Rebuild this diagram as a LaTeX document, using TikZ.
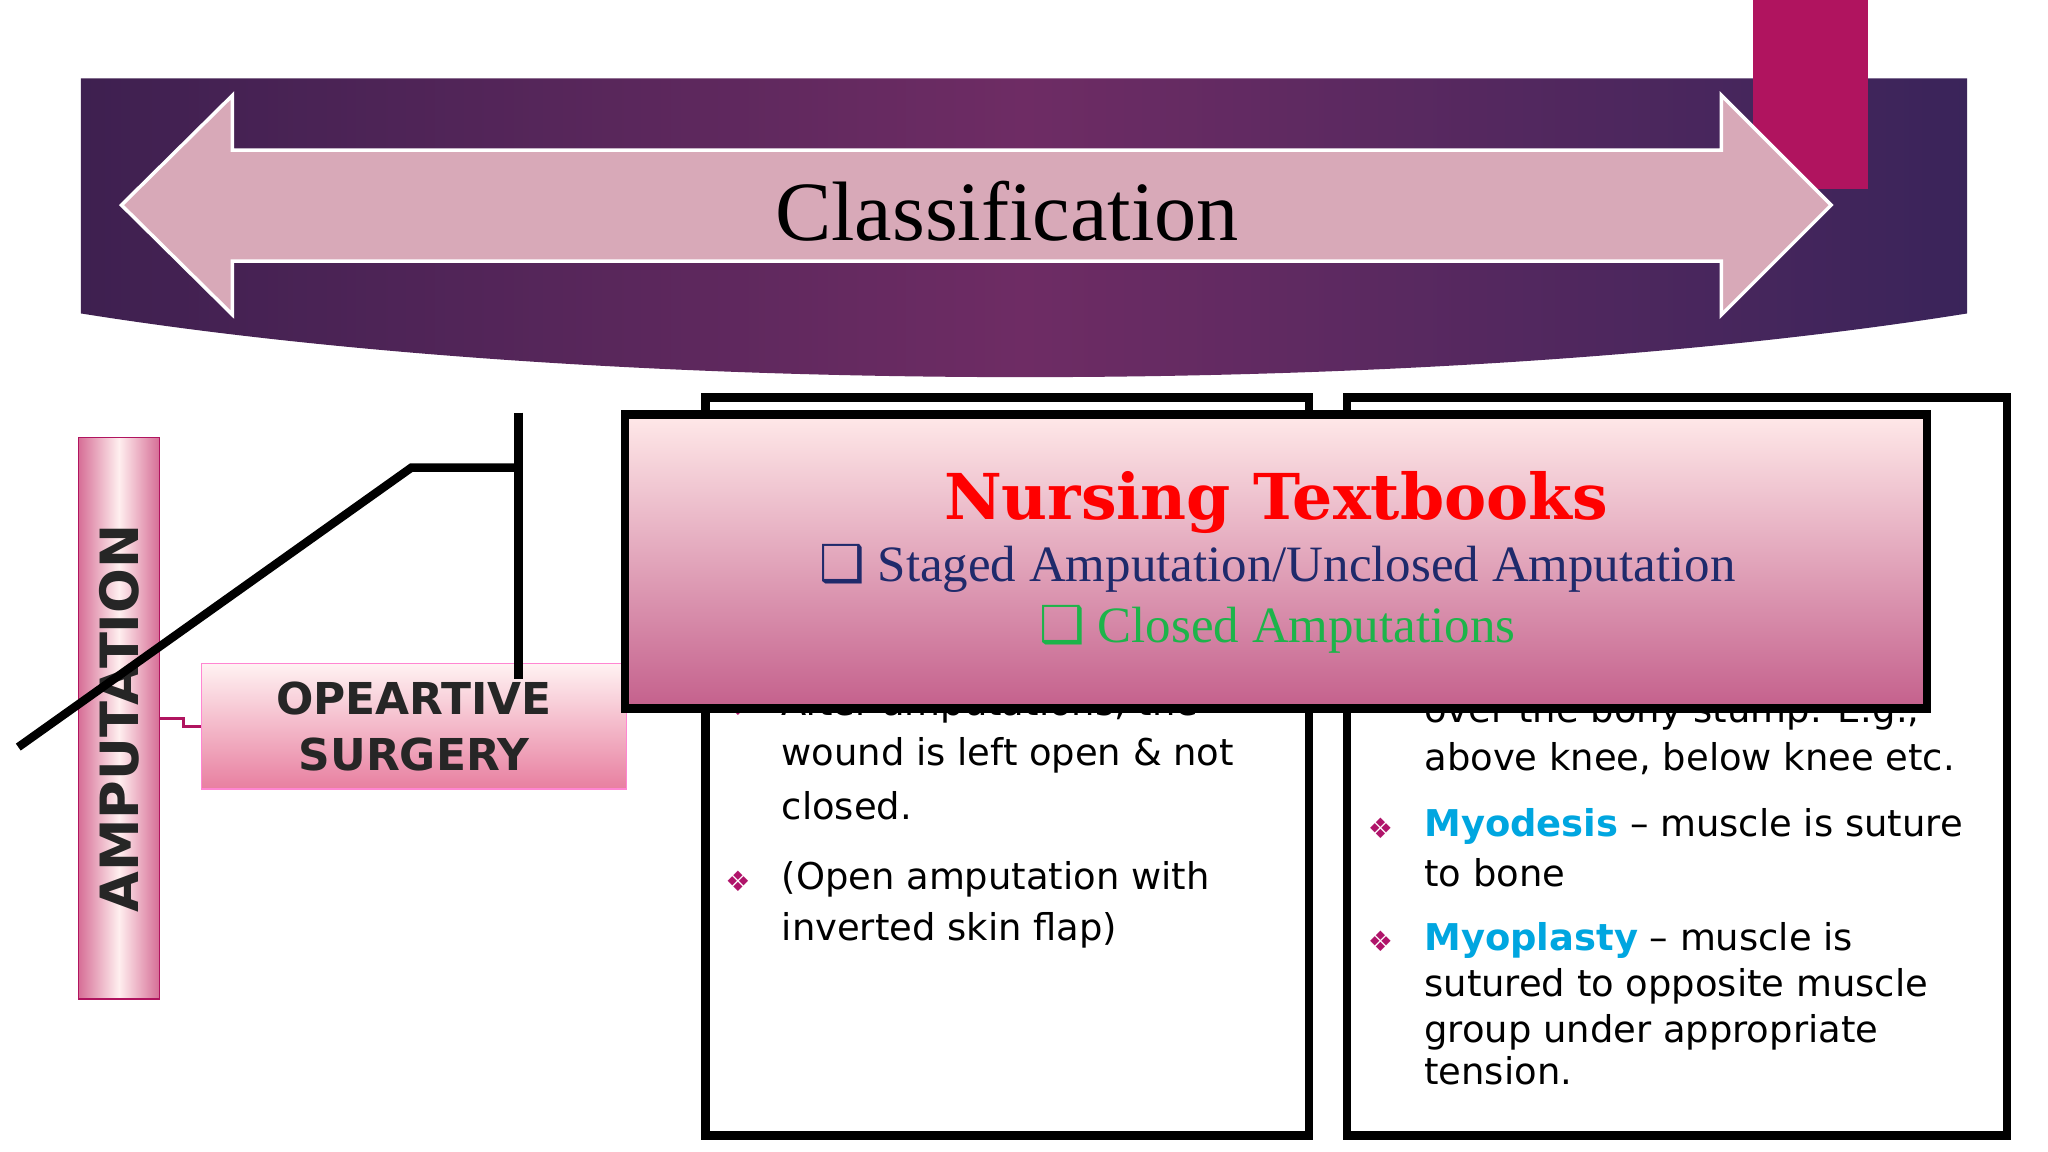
\documentclass[tikz,border=0pt]{standalone}
\usepackage{fontspec}
\setmainfont{DejaVu Sans}
\newfontfamily\serifx{Liberation Serif}
\newfontfamily\dserif{DejaVu Serif}
\definecolor{mag}{HTML}{B0145F}
\definecolor{navy}{HTML}{1F2A6B}
\definecolor{grn}{HTML}{1DB44A}
\definecolor{cyanx}{HTML}{00A6E0}
\definecolor{bul}{HTML}{B0146A}
\def\u{0.013061cm}
\begin{document}
\begin{tikzpicture}[x=0.013061cm,y=-0.013061cm,
  bline/.style={anchor=west,font=\fontsize{10.5}{13}\selectfont,inner sep=0pt},
  bulx/.style={anchor=center,font=\fontsize{8}{10}\selectfont,text=bul,inner sep=0pt},
  frame/.style={draw=black,line width=2.4pt}]
\useasboundingbox[fill=white] (0,0) rectangle (1568,882);
% banner
\shade[left color={rgb,255:red,62;green,32;blue,80}, right color={rgb,255:red,58;green,36;blue,90}, middle color={rgb,255:red,110;green,44;blue,100}]
 (62,60) -- (1506,60) -- (1506,240) .. controls (1100,305) and (470,305) .. (62,240) -- cycle;
\fill[mag] (1342,0) rectangle (1430,145);
\filldraw[draw=white,line width=1pt,fill={rgb,255:red,216;green,169;blue,184}]
 (93,157) -- (178,73) -- (178,115) -- (1318,115) -- (1318,73) -- (1402,157) -- (1318,241) -- (1318,200) -- (178,200) -- (178,241) -- cycle;
\node[font=\serifx\fontsize{24}{28}\selectfont] (cls) at (771,162) {Classification};
% amputation
\node[draw=mag,minimum width=62*\u,minimum height=430*\u,inner sep=0pt,
  left color={rgb,255:red,214;green,110;blue,150}, right color={rgb,255:red,214;green,110;blue,150}, middle color=pink!25,
  ] (amp) at (91,550) {};
\node[rotate=90,font=\bfseries\fontsize{15}{18}\selectfont,text=black!85] at (amp.center) {AMPUTATION};
\node[draw=pink!70!magenta,minimum width=325*\u,minimum height=96*\u,inner sep=0pt,
  top color=pink!20, bottom color={rgb,255:red,232;green,127;blue,160},align=center,
  font=\bfseries\fontsize{12.5}{16}\selectfont,text=black!85] (op) at (317,556) {OPEARTIVE\\SURGERY};
\draw[mag,line width=0.8pt] (amp.east) -- ++(18,0) |- (op.west);
% black lines
\coordinate (l1) at (14,572); \coordinate (l2) at (315,358); \coordinate (l3) at (397,358);
\coordinate (v1) at (397,316); \coordinate (v2) at (397,520);
\draw[line width=2.4pt] (l1) -- (l2) -- (l3);
\draw[line width=2.4pt] (v1) -- (v2);
% boxes
\node[frame,minimum width=462*\u,minimum height=565*\u,inner sep=0pt] (bl) at (771,587) {};
\node[frame,minimum width=505*\u,minimum height=565*\u,inner sep=0pt] (br) at (1284,587) {};
% left text
\node[bulx] at (565,540) {❖};
\node[bline] at (598,540) {After amputations, the};
\node[bline] at (598,578) {wound is left open \& not};
\node[bline] at (598,617) {closed.};
\node[bulx] at (565,675) {❖};
\node[bline] at (598,673) {(Open amputation with};
\node[bline] at (598,712) {inverted skin flap)};
% right text
\node[bline] at (1090,545) {over the bony stump. E.g.,};
\node[bline] at (1090,581) {above knee, below knee etc.};
\node[bulx] at (1057,634) {❖};
\node[bline] at (1090,633) {\textbf{\color{cyanx}Myodesis} – muscle is suture};
\node[bline] at (1090,668) {to bone};
\node[bulx] at (1057,721) {❖};
\node[bline] at (1090,720) {\textbf{\color{cyanx}Myoplasty} – muscle is};
\node[bline] at (1090,755) {sutured to opposite muscle};
\node[bline] at (1090,790) {group under appropriate};
\node[bline] at (1090,820) {tension.};
% overlay
\node[frame,minimum width=997*\u,minimum height=225*\u,inner sep=0pt,
  top color=pink!35, bottom color={rgb,255:red,196;green,96;blue,140}] (ov) at (977,430) {};
\node[font=\dserif\bfseries\fontsize{18}{22}\selectfont,text=red] (nt) at (977,385) {Nursing Textbooks};
\node[font=\serifx\fontsize{14.5}{17}\selectfont,text=navy] (s1) at (978,435) {{\fontspec{DejaVu Sans}❑} Staged Amputation/Unclosed Amputation};
\node[font=\serifx\fontsize{14.5}{17}\selectfont,text=grn] (s2) at (978,482) {{\fontspec{DejaVu Sans}❑} Closed Amputations};
\end{tikzpicture}
\end{document}
